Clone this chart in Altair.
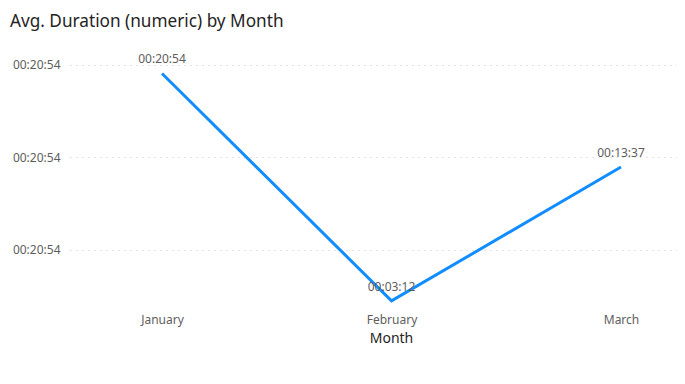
import altair as alt
import pandas as pd

months = ["January", "February", "March"]
duration_labels = ["00:20:54", "00:03:12", "00:13:37"]
y_tick_values = [0.005, 0.010, 0.015]
y_tick_labels = ["00:20:54", "00:20:54", "00:20:54"]


def to_days(s):
    h, m, sec = (int(p) for p in s.split(":"))
    return (h * 3600 + m * 60 + sec) / 86400.0


df = pd.DataFrame({
    "MonthIndex": list(range(len(months))),
    "Month": months,
    "Duration": [to_days(s) for s in duration_labels],
    "Label": duration_labels,
})

FONT = "Noto Sans"
W, H = 607, 259

month_expr = "[" + ",".join(f"'{m}'" for m in months) + "][datum.value]"

x_enc = alt.X(
    "MonthIndex:Q",
    scale=alt.Scale(domain=[-0.4009, 2.244], nice=False, zero=False),
    axis=alt.Axis(
        title="Month",
        values=list(range(len(months))),
        labelExpr=month_expr,
        labelAngle=0,
        labelColor="#605E5C",
        labelFontSize=12,
        labelFont=FONT,
        labelPadding=9,
        labelFlush=False,
        labelOverlap=False,
        ticks=False,
        domain=False,
        grid=False,
        titleColor="#252423",
        titleFontSize=14,
        titleFont=FONT,
        titleFontWeight="normal",
        titlePadding=6,
        titleX=321,
        titleAlign="center",
    ),
)
y_enc = alt.Y(
    "Duration:Q",
    scale=alt.Scale(domain=[0.002, 0.016], nice=False, zero=False),
    axis=alt.Axis(
        title=None,
        values=y_tick_values,
        labelExpr="'" + y_tick_labels[0] + "'",
        labelColor="#605E5C",
        labelFontSize=12,
        labelFont=FONT,
        labelPadding=10,
        ticks=False,
        domain=False,
        grid=True,
        gridColor="#C8C6C4",
        gridDash=[1, 5],
        gridWidth=1,
    ),
)

line = alt.Chart(df).mark_line(color="#118DFF", strokeWidth=3).encode(x=x_enc, y=y_enc)
labels = alt.Chart(df).mark_text(
    dy=-14, fontSize=12, font=FONT, color="#605E5C", baseline="middle"
).encode(x=x_enc, y=y_enc, text="Label:N")

chart = (
    alt.layer(line, labels)
    .properties(
        width=W,
        height=H,
        autosize=alt.AutoSizeParams(type="none"),
        padding={"left": 62, "top": 38, "right": 0, "bottom": 60},
        title=alt.TitleParams(
            "Avg. Duration (numeric) by Month",
            anchor="start",
            frame="group",
            dx=-60,
            fontSize=17.2,
            font=FONT,
            fontWeight="normal",
            color="#252423",
            offset=16,
        ),
    )
    .configure_view(stroke=None)
)

chart.save("out.html", embed_options={"renderer": "svg", "actions": False})
